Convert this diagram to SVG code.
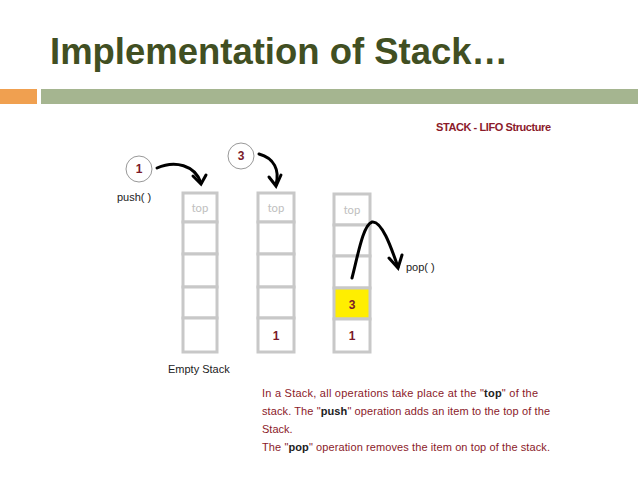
<svg xmlns="http://www.w3.org/2000/svg" width="638" height="478" viewBox="0 0 638 478">
<style>
.cell{fill:#fff;stroke:#c8c8c8;stroke-width:3}
.top{font-family:Calibri,"Carlito","Liberation Sans",sans-serif;font-size:12px;fill:#c0c0c0;text-anchor:middle}
.num{font-family:"Liberation Sans",sans-serif;font-size:12px;font-weight:bold;fill:#7a1a2a;text-anchor:middle}
.lbl{font-family:"Liberation Sans",sans-serif;font-size:11px;fill:#222}
.arr{fill:none;stroke:#000;stroke-width:3;stroke-linecap:round}
.desc{font-family:"Liberation Sans",sans-serif;font-size:11px;fill:#8b1a2a}
</style>
<rect width="638" height="478" fill="#fff"/>
<text x="50" y="64" font-family="Liberation Sans,sans-serif" font-size="37" font-weight="bold" fill="#414f22" textLength="458" lengthAdjust="spacingAndGlyphs">Implementation of Stack…</text>
<rect x="0" y="89" width="37" height="15" fill="#f0a050"/>
<rect x="41" y="89" width="597" height="15" fill="#a5b590"/>
<text x="436" y="131" font-family="Liberation Sans,sans-serif" font-size="11" font-weight="bold" fill="#8b1a2a" textLength="115">STACK -  LIFO Structure</text>
<g id="stack1">
<rect class="cell" x="183" y="193" width="34" height="29"/>
<rect class="cell" x="183" y="222" width="34" height="32"/>
<rect class="cell" x="183" y="254" width="34" height="33"/>
<rect class="cell" x="183" y="287" width="34" height="31"/>
<rect class="cell" x="183" y="318" width="34" height="34"/>
<text class="top" x="200" y="212">top</text>
<text class="lbl" x="168" y="373">Empty Stack</text>
</g>
<g id="stack2">
<rect class="cell" x="258" y="193" width="36" height="29"/>
<rect class="cell" x="258" y="222" width="36" height="32"/>
<rect class="cell" x="258" y="254" width="36" height="33"/>
<rect class="cell" x="258" y="287" width="36" height="31"/>
<rect class="cell" x="258" y="318" width="36" height="34"/>
<text class="top" x="276" y="212">top</text>
<text class="num" x="276" y="340">1</text>
</g>
<g id="stack3">
<rect class="cell" x="334" y="194" width="36" height="31"/>
<rect class="cell" x="334" y="225" width="36" height="31"/>
<rect class="cell" x="334" y="256" width="36" height="32"/>
<rect x="334" y="288" width="36" height="31" fill="#ffee00" stroke="#c8c8c8" stroke-width="3"/>
<rect class="cell" x="334" y="319" width="36" height="33"/>
<text class="top" x="352" y="214">top</text>
<text class="num" x="352" y="309">3</text>
<text class="num" x="352" y="340">1</text>
</g>
<g id="c1">
<circle cx="139" cy="169" r="13" fill="#fff" stroke="#999"/>
<text class="num" x="139" y="173">1</text>
<text class="lbl" x="117" y="201">push( )</text>
</g>
<g id="c3">
<circle cx="241" cy="156" r="13" fill="#fff" stroke="#999"/>
<text class="num" x="241" y="160">3</text>
</g>
<text class="lbl" x="406" y="271">pop( )</text>
<g id="connectors">
<path class="arr" d="M157,168 C175,160 195,165 201,183"/>
<path class="arr" d="M193,176 L201,184 L206,175"/>
<path class="arr" d="M259,154 C274,158 280,170 276,185"/>
<path class="arr" d="M269,177 L276,186 L281,175"/>
<path class="arr" d="M352,278 C358,255 363,225 372,222 C382,220 392,250 398,267"/>
<path class="arr" d="M389,258 L398,268 L402,255"/>
</g>
<text class="desc" x="262" y="397" textLength="276">In a Stack, all operations take place at the "<tspan font-weight="bold" fill="#222">top</tspan>" of the</text>
<text class="desc" x="262" y="415" textLength="288">stack. The "<tspan font-weight="bold" fill="#222">push</tspan>" operation adds an item to the top of the</text>
<text class="desc" x="262" y="433">Stack.</text>
<text class="desc" x="262" y="451" textLength="288">The "<tspan font-weight="bold" fill="#222">pop</tspan>" operation removes the item on top of the stack.</text>
</svg>
